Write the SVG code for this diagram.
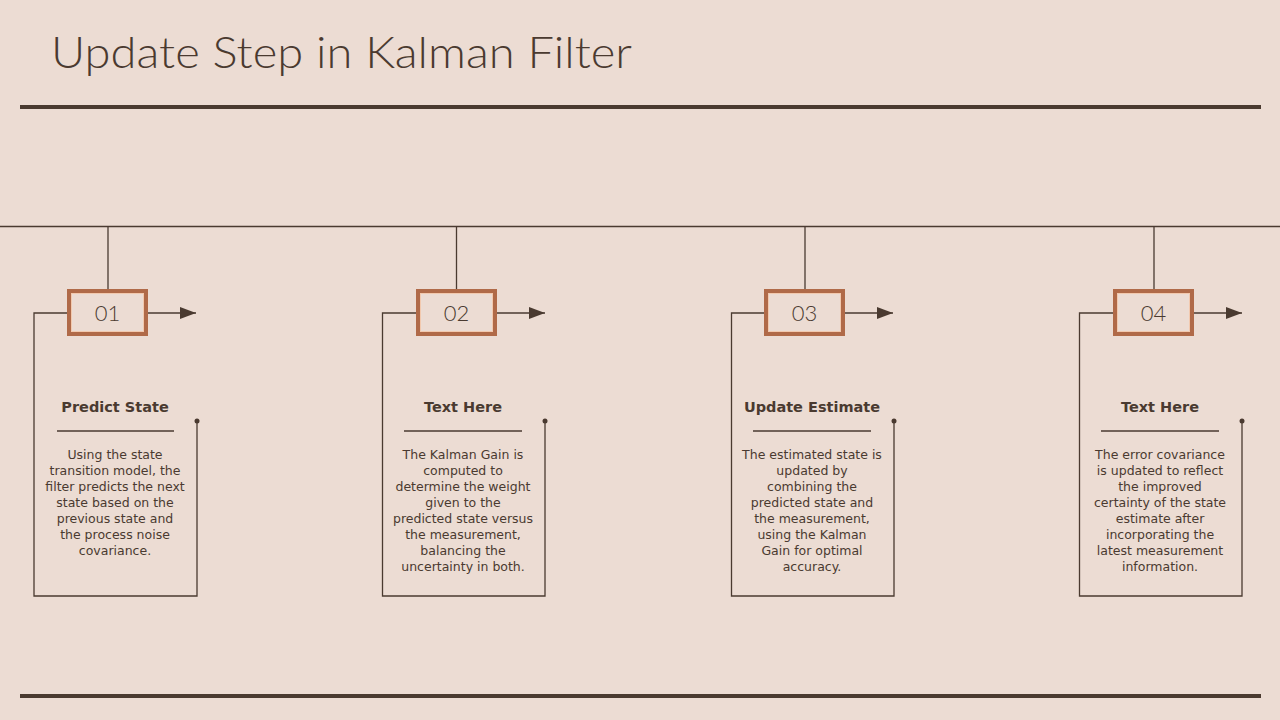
<svg xmlns="http://www.w3.org/2000/svg" width="1280" height="720" viewBox="0 0 1280 720">
<defs>
<marker id="arr" markerWidth="16" markerHeight="12" refX="16" refY="6" orient="auto" markerUnits="userSpaceOnUse">
<path d="M0,0 L16,6 L0,12 Z" fill="#4a3a30"/>
</marker>
<style>
.bg{fill:#ecdcd3}
.rule{stroke:#4a3a30;stroke-width:4}
.ln{stroke:#4a3a30;stroke-width:1.3;fill:none}
.box{fill:#ecdcd3;stroke:#b06a48;stroke-width:4}
.boxin{fill:none;stroke:#f2c9ae;stroke-width:1}
.num{font-family:Lato,"DejaVu Sans","Liberation Sans",sans-serif;font-weight:300;font-size:22px;fill:#4a3a30;text-anchor:middle}
.head{font-family:"DejaVu Sans","Liberation Sans",sans-serif;font-weight:bold;font-size:14.5px;fill:#4a3a30;text-anchor:middle}
.body{font-family:"DejaVu Sans","Liberation Sans",sans-serif;font-size:12.5px;fill:#4a3a30;text-anchor:middle}
.title{font-family:Lato,"DejaVu Sans","Liberation Sans",sans-serif;font-weight:300;font-size:44px;fill:#4a3a30}
.dot{fill:#4a3a30}
</style>
</defs>
<rect class="bg" x="0" y="0" width="1280" height="720"/>
<text class="title" x="51" y="68" textLength="581" lengthAdjust="spacingAndGlyphs">Update Step in Kalman Filter</text>
<line class="rule" x1="20" y1="107" x2="1261" y2="107"/>
<line class="rule" x1="20" y1="696" x2="1261" y2="696"/>

<g id="connectors">
<line class="ln" x1="0" y1="226.5" x2="1280" y2="226.5"/>
<line class="ln" x1="108" y1="226" x2="108" y2="289"/>
<line class="ln" x1="456.5" y1="226" x2="456.5" y2="289"/>
<line class="ln" x1="805" y1="226" x2="805" y2="289"/>
<line class="ln" x1="1154" y1="226" x2="1154" y2="289"/>
<line class="ln" x1="148" y1="313" x2="196" y2="313" marker-end="url(#arr)"/>
<line class="ln" x1="497" y1="313" x2="545" y2="313" marker-end="url(#arr)"/>
<line class="ln" x1="845" y1="313" x2="893" y2="313" marker-end="url(#arr)"/>
<line class="ln" x1="1194" y1="313" x2="1242" y2="313" marker-end="url(#arr)"/>
<polyline class="ln" points="67,313 34,313 34,596 197,596 197,421"/>
<polyline class="ln" points="416,313 382.5,313 382.5,596 545,596 545,421"/>
<polyline class="ln" points="765,313 731.5,313 731.5,596 894,596 894,421"/>
<polyline class="ln" points="1113,313 1079.5,313 1079.5,596 1242,596 1242,421"/>
<circle class="dot" cx="197" cy="421" r="2.5"/>
<circle class="dot" cx="545" cy="421" r="2.5"/>
<circle class="dot" cx="894" cy="421" r="2.5"/>
<circle class="dot" cx="1242" cy="421" r="2.5"/>
</g>

<g id="step01">
<rect class="box" x="69" y="291" width="77" height="43"/>
<rect class="boxin" x="71.5" y="293.5" width="72" height="38"/>
<text class="num" x="107.5" y="320.5">01</text>
<text class="head" x="115" y="412">Predict State</text>
<line class="ln" x1="57" y1="431" x2="174" y2="431"/>
<text class="body" x="115"><tspan x="115" y="459">Using the state</tspan><tspan x="115" y="475">transition model, the</tspan><tspan x="115" y="491">filter predicts the next</tspan><tspan x="115" y="507">state based on the</tspan><tspan x="115" y="523">previous state and</tspan><tspan x="115" y="539">the process noise</tspan><tspan x="115" y="555">covariance.</tspan></text>
</g>

<g id="step02">
<rect class="box" x="418" y="291" width="77" height="43"/>
<rect class="boxin" x="420.5" y="293.5" width="72" height="38"/>
<text class="num" x="456.5" y="320.5">02</text>
<text class="head" x="463" y="412">Text Here</text>
<line class="ln" x1="404" y1="431" x2="522" y2="431"/>
<text class="body"><tspan x="463" y="459">The Kalman Gain is</tspan><tspan x="463" y="475">computed to</tspan><tspan x="463" y="491">determine the weight</tspan><tspan x="463" y="507">given to the</tspan><tspan x="463" y="523">predicted state versus</tspan><tspan x="463" y="539">the measurement,</tspan><tspan x="463" y="555">balancing the</tspan><tspan x="463" y="571">uncertainty in both.</tspan></text>
</g>

<g id="step03">
<rect class="box" x="766" y="291" width="77" height="43"/>
<rect class="boxin" x="768.5" y="293.5" width="72" height="38"/>
<text class="num" x="804.5" y="320.5">03</text>
<text class="head" x="812" y="412">Update Estimate</text>
<line class="ln" x1="753" y1="431" x2="871" y2="431"/>
<text class="body"><tspan x="812" y="459">The estimated state is</tspan><tspan x="812" y="475">updated by</tspan><tspan x="812" y="491">combining the</tspan><tspan x="812" y="507">predicted state and</tspan><tspan x="812" y="523">the measurement,</tspan><tspan x="812" y="539">using the Kalman</tspan><tspan x="812" y="555">Gain for optimal</tspan><tspan x="812" y="571">accuracy.</tspan></text>
</g>

<g id="step04">
<rect class="box" x="1115" y="291" width="77" height="43"/>
<rect class="boxin" x="1117.5" y="293.5" width="72" height="38"/>
<text class="num" x="1153.5" y="320.5">04</text>
<text class="head" x="1160" y="412">Text Here</text>
<line class="ln" x1="1101" y1="431" x2="1219" y2="431"/>
<text class="body"><tspan x="1160" y="459">The error covariance</tspan><tspan x="1160" y="475">is updated to reflect</tspan><tspan x="1160" y="491">the improved</tspan><tspan x="1160" y="507">certainty of the state</tspan><tspan x="1160" y="523">estimate after</tspan><tspan x="1160" y="539">incorporating the</tspan><tspan x="1160" y="555">latest measurement</tspan><tspan x="1160" y="571">information.</tspan></text>
</g>
</svg>
